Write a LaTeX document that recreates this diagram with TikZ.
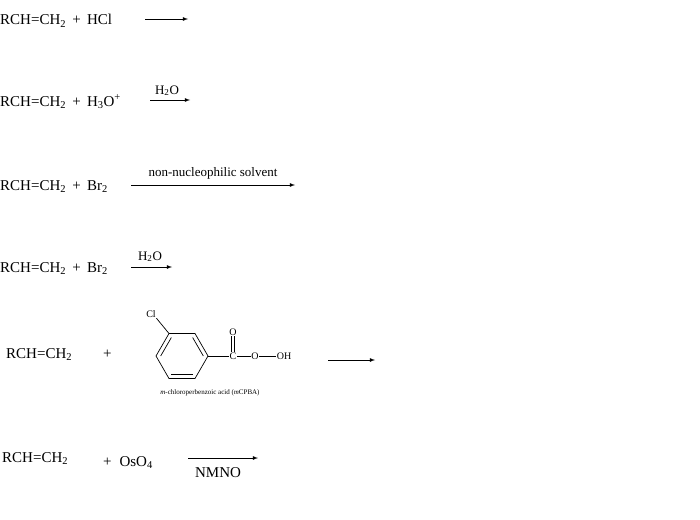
\documentclass[tikz,border=0pt]{standalone}
\usepackage{fontspec}
\setmainfont{Liberation Serif}
\usetikzlibrary{calc}
\begin{document}
\begin{tikzpicture}[x=1pt,y=-1pt,
  txt/.style={inner sep=0pt,anchor=base west,font=\fontsize{15}{18}\selectfont},
  lbl/.style={inner sep=0pt,anchor=base,font=\fontsize{13}{15}\selectfont},
  arr/.style={-latex,line width=0.8pt},
  bond/.style={line width=0.7pt},
  sm/.style={inner sep=0.5pt,font=\fontsize{10}{12}\selectfont}]
\useasboundingbox (0,0) rectangle (700,519);
% row 1
\node[txt] (r1) at (0,25) {RCH=CH\textsubscript{2} \,+\, HCl};
\coordinate (a1s) at (145,19); \coordinate (a1e) at (188,19);
\draw[arr] (a1s) -- (a1e);
% row 2
\node[txt] (r2) at (0,106) {RCH=CH\textsubscript{2} \,+\, H\textsubscript{3}O\textsuperscript{+}};
\coordinate (a2s) at (150,100); \coordinate (a2e) at (190,100);
\draw[arr] (a2s) -- (a2e);
\node[lbl] (l2) at (167,94) {H\textsubscript{2}O};
% row 3
\node[txt] (r3) at (0,190) {RCH=CH\textsubscript{2} \,+\, Br\textsubscript{2}};
\coordinate (a3s) at (131,185); \coordinate (a3e) at (295,185);
\draw[arr] (a3s) -- (a3e);
\node[lbl] (l3) at (213,176) {non-nucleophilic solvent};
% row 4
\node[txt] (r4) at (0,272) {RCH=CH\textsubscript{2} \,+\, Br\textsubscript{2}};
\coordinate (a4s) at (131,267); \coordinate (a4e) at (172,267);
\draw[arr] (a4s) -- (a4e);
\node[lbl] (l4) at (150,260) {H\textsubscript{2}O};
% row 5
\node[txt] (r5) at (6,358) {RCH=CH\textsubscript{2}};
\node[txt] (p5) at (103,358) {+};
\foreach \i in {0,...,5} \coordinate (v\i) at ({182+26*cos(60*\i)},{356-26*sin(60*\i)});
\draw[bond] (v0)--(v1)--(v2)--(v3)--(v4)--(v5)--cycle;
\coordinate (cen) at (182,356);
\draw[bond] ($(cen)!0.82!(v2)$) -- ($(cen)!0.82!(v3)$);
\draw[bond] ($(cen)!0.82!(v4)$) -- ($(cen)!0.82!(v5)$);
\draw[bond] ($(cen)!0.82!(v0)$) -- ($(cen)!0.82!(v1)$);
\node[sm] (cl) at (151,314) {Cl};
\draw[bond] (v2) -- (cl.south east);
\node[sm] (c) at (233,356) {C};
\draw[bond] (v0) -- (c);
\node[sm] (o1) at (233,332) {O};
\draw[bond] ([xshift=-1.3pt]c.north) -- ([xshift=-1.3pt]o1.south);
\draw[bond] ([xshift=1.3pt]c.north) -- ([xshift=1.3pt]o1.south);
\node[sm] (o2) at (255,356) {O};
\node[sm] (oh) at (284,356) {OH};
\draw[bond] (c) -- (o2); \draw[bond] (o2) -- (oh);
\node[inner sep=0pt,font=\fontsize{7}{8}\selectfont] (cap) at (210,393) {\textit{m}-chloroperbenzoic acid (\textit{m}CPBA)};
\coordinate (a5s) at (328,360); \coordinate (a5e) at (375,360);
\draw[arr] (a5s) -- (a5e);
% row 6
\node[txt] (r6) at (2,462) {RCH=CH\textsubscript{2}};
\node[txt] (p6) at (103,466) {+\; OsO\textsubscript{4}};
\coordinate (a6s) at (188,458); \coordinate (a6e) at (258,458);
\draw[arr] (a6s) -- (a6e);
\node[lbl,font=\fontsize{15}{18}\selectfont] (l6) at (218,477) {NMNO};
\end{tikzpicture}
\end{document}
